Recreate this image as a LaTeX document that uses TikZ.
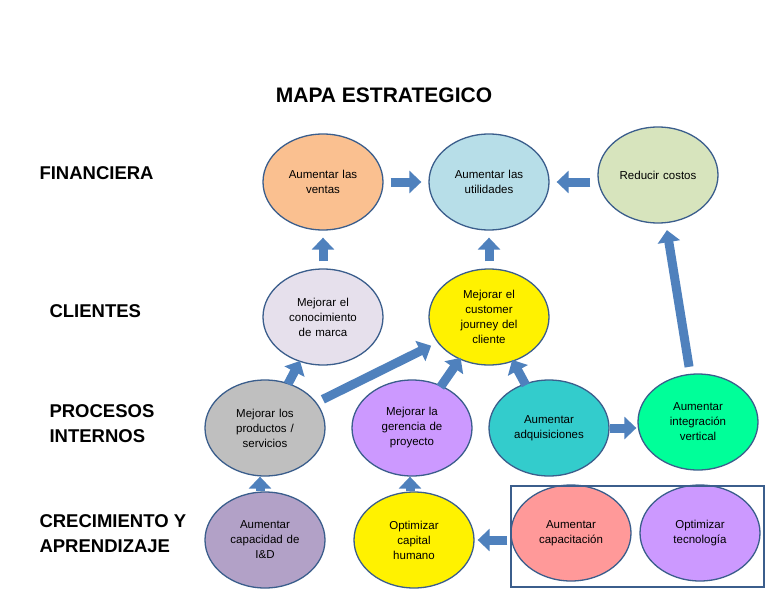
\documentclass[tikz,border=0pt]{standalone}
\usepackage{fontspec}
\setmainfont{Liberation Sans}
\usetikzlibrary{shapes.geometric,arrows.meta}
\definecolor{edge}{HTML}{3B5E8C}
\definecolor{arr}{HTML}{4F81BD}
\definecolor{cOr}{HTML}{FAC090}
\definecolor{cBl}{HTML}{B7DEE8}
\definecolor{cGr}{HTML}{D7E4BD}
\definecolor{cLv}{HTML}{E6E0EC}
\definecolor{cPu}{HTML}{CC99FF}
\definecolor{cTe}{HTML}{33CCCC}
\definecolor{cGn}{HTML}{00FF99}
\definecolor{cGy}{HTML}{BFBFBF}
\definecolor{cId}{HTML}{B2A1C7}
\definecolor{cRd}{HTML}{FF9999}
\tikzset{
 el/.style={ellipse,draw=edge,line width=1.3pt,fill=#1,minimum width=120pt,minimum height=96pt,inner sep=0pt,text width=78pt,align=center,font=\fontsize{11.5}{15}\selectfont},
 blk/.style={draw=arr,line width=9pt,-{Triangle[width=22pt,length=12pt]},shorten <=7pt,shorten >=7pt},
 lab/.style={font=\bfseries\fontsize{18.5}{25}\selectfont,anchor=west,align=left}
}
\begin{document}
\begin{tikzpicture}[x=1pt,y=-1pt]
\useasboundingbox (0,0) rectangle (768,594);
\fill[white] (0,0) rectangle (768,594);
\node[font=\bfseries\fontsize{21}{25}\selectfont] (title) at (384,95) {MAPA ESTRATEGICO};
\node[lab] (l1) at (36,173) {FINANCIERA};
\node[lab] (l2) at (46,311) {CLIENTES};
\node[lab] (l3) at (46,424) {PROCESOS\\INTERNOS};
\node[lab] (l4) at (36,534) {CRECIMIENTO Y\\APRENDIZAJE};
\node[el=cOr] (ventas) at (323,182) {Aumentar las\\ventas};
\node[el=cBl] (util) at (489,182) {Aumentar las\\utilidades};
\node[el=cGr] (costos) at (658,175) {Reducir costos};
\node[el=cLv] (marca) at (323,317) {Mejorar el\\conocimiento\\de marca};
\node[el=yellow] (cust) at (489,317) {Mejorar el\\customer\\journey del\\cliente};
\node[el=cGy] (prod) at (265,428) {Mejorar los\\productos /\\servicios};
\node[el=cPu] (ger) at (412,428) {Mejorar la\\gerencia de\\proyecto};
\node[el=cTe] (adq) at (549,428) {Aumentar\\adquisiciones};
\node[el=cGn] (int) at (698,422) {Aumentar\\integración\\vertical};
\node[el=cId] (id) at (265,540) {Aumentar\\capacidad de\\I\&D};
\node[el=yellow] (cap) at (414,540) {Optimizar\\capital\\humano};
\node[el=cRd] (capac) at (571,533) {Aumentar\\capacitación};
\node[el=cPu] (tec) at (700,533) {Optimizar\\tecnología};
\node[draw=edge,line width=1.2pt,minimum width=253pt,minimum height=101pt,inner sep=0pt] (box) at (637.5,536.5) {};
\draw[blk] (ventas) -- (util);
\draw[blk] (costos.west|-util) -- (util);
\draw[blk] (marca) -- (ventas);
\draw[blk] (cust) -- (util);
\draw[blk,shorten <=-1pt,shorten >=-1pt] (prod) -- (marca);
\draw[blk] (prod) -- (cust);
\draw[blk,shorten <=-2pt,shorten >=-2pt] (ger) -- (cust);
\draw[blk,shorten <=-2pt,shorten >=-2pt] (adq) -- (cust);
\draw[blk,shorten <=0pt,shorten >=1pt] (adq) -- (int.west|-adq);
\draw[blk] (int) -- (costos);
\draw[blk,shorten <=0pt,shorten >=0pt] (id.north -| 260,0) -- (prod.south -| 260,0);
\draw[blk,shorten <=0pt,shorten >=0pt] (cap.north -| 410,0) -- (ger.south -| 410,0);
\draw[blk,shorten <=3pt,shorten >=3pt] (box.west|-cap) -- (cap);
\end{tikzpicture}
\end{document}
